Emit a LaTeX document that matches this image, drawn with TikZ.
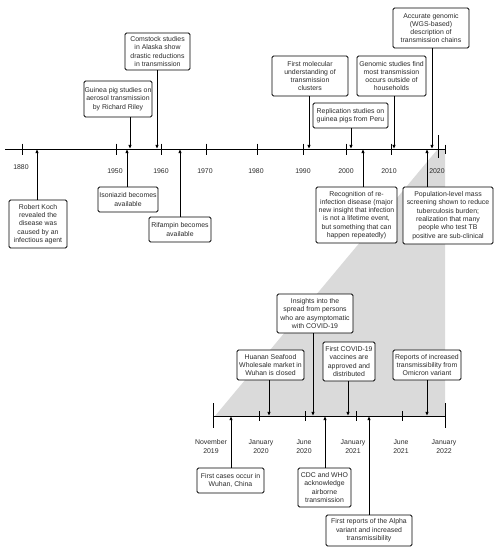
\documentclass[tikz,border=0pt]{standalone}
\usepackage{fontspec}
\setmainfont{Liberation Sans}
\usepackage{tikz}
\usetikzlibrary{arrows.meta}
\usepackage{xcolor}
\definecolor{inkc}{HTML}{2B2B2B}
\definecolor{shadec}{HTML}{DADADA}

\tikzset{
  event/.style={draw=black, line width=0.9pt, rounded corners=1.6pt, fill=white,
    align=center, inner sep=0pt, text=inkc, font=\fontsize{6.9}{8.3}\selectfont},
  evarrow/.style={line width=0.9pt, -{Latex[length=4.2pt,width=3.6pt]}},
  yearlab/.style={align=center, text=inkc, font=\fontsize{6.9}{8.6}\selectfont},
  tline/.style={line width=0.9pt}
}

\begin{document}
\begin{tikzpicture}[x=1pt,y=-1pt]
  \useasboundingbox (0,0) rectangle (499,550);
  \fill[shadec] (437,150) -- (445,150) -- (445,416) -- (215,416) -- cycle;

  \draw[tline] (5,149) -- (445,149);
  \draw[tline] (22,143.5) -- (22,154.5);
  \node[yearlab] (y1880) at (21,167) {1880};
  \draw[tline] (116,143.5) -- (116,154.5);
  \node[yearlab] (y1950) at (115,171) {1950};
  \draw[tline] (161,143.5) -- (161,154.5);
  \node[yearlab] (y1960) at (161,171) {1960};
  \draw[tline] (206,143.5) -- (206,154.5);
  \node[yearlab] (y1970) at (205,171) {1970};
  \draw[tline] (257,143.5) -- (257,154.5);
  \node[yearlab] (y1980) at (256,171) {1980};
  \draw[tline] (303,143.5) -- (303,154.5);
  \node[yearlab] (y1990) at (303,171) {1990};
  \draw[tline] (346,143.5) -- (346,154.5);
  \node[yearlab] (y2000) at (346,171) {2000};
  \draw[tline] (391,143.5) -- (391,154.5);
  \node[yearlab] (y2010) at (389,171) {2010};
  \draw[tline] (438,135) -- (438,158);
  \node[yearlab] (y2020) at (437,171) {2020};
  \draw[tline] (445,144.5) -- (445,153.5);

  \node[event, minimum width=58pt, minimum height=48pt] (koch) at (38,224)
    {Robert Koch\\revealed the\\disease was\\caused by an\\infectious agent};
  \node[event, minimum width=68pt, minimum height=36pt] (guinea) at (118,99)
    {Guinea pig studies on\\aerosol transmission\\by Richard Riley};
  \node[event, minimum width=65pt, minimum height=37pt] (comstock) at (157.5,51.5)
    {Comstock studies\\in Alaska show\\drastic reductions\\in transmission};
  \node[event, minimum width=60pt, minimum height=25pt] (isoniazid) at (128,199.5)
    {Isoniazid becomes\\available};
  \node[event, minimum width=62pt, minimum height=25pt] (rifampin) at (180,229.5)
    {Rifampin becomes\\available};
  \node[event, minimum width=76pt, minimum height=40pt] (molecular) at (310,76)
    {First molecular\\understanding of\\transmission\\clusters};
  \node[event, minimum width=75pt, minimum height=25pt] (replication) at (350.5,115.5)
    {Replication studies on\\guinea pigs from Peru};
  \node[event, minimum width=69pt, minimum height=40pt] (genomic) at (391.5,76)
    {Genomic studies find\\most transmission\\occurs outside of\\households};
  \node[event, minimum width=76pt, minimum height=40pt] (accurate) at (431,28)
    {Accurate genomic\\(WGS-based)\\description of\\transmission chains};
  \node[event, minimum width=81pt, minimum height=56pt] (reinfect) at (356.5,215)
    {Recognition of re-\\infection disease (major\\new insight that infection\\is not a lifetime event,\\but something that can\\happen repeatedly)};
  \node[event, minimum width=90pt, minimum height=57pt] (screening) at (448,215.5)
    {Population-level mass\\screening shown to reduce\\tuberculosis burden;\\realization that many\\people who test TB\\positive are sub-clinical};

  \coordinate (tkoch) at (37,149);
  \coordinate (tguinea) at (130,149);
  \coordinate (tcomstock) at (157,149);
  \coordinate (tisoniazid) at (127,149);
  \coordinate (trifampin) at (180,149);
  \coordinate (tmolecular) at (309,149);
  \coordinate (treplication) at (351,149);
  \coordinate (tgenomic) at (394,149);
  \coordinate (taccurate) at (432,149);
  \coordinate (treinfect) at (363,149);
  \coordinate (tscreening) at (427,149);
  \draw[evarrow] (tkoch |- koch.north) -- (tkoch);
  \draw[evarrow] (tguinea |- guinea.south) -- (tguinea);
  \draw[evarrow] (tcomstock |- comstock.south) -- (tcomstock);
  \draw[evarrow] (tisoniazid |- isoniazid.north) -- (tisoniazid);
  \draw[evarrow] (trifampin |- rifampin.north) -- (trifampin);
  \draw[evarrow] (tmolecular |- molecular.south) -- (tmolecular);
  \draw[evarrow] (treplication |- replication.south) -- (treplication);
  \draw[evarrow] (tgenomic |- genomic.south) -- (tgenomic);
  \draw[evarrow] (taccurate |- accurate.south) -- (taccurate);
  \draw[evarrow] (treinfect |- reinfect.north) -- (treinfect);
  \draw[evarrow] (tscreening |- screening.north) -- (tscreening);

  \draw[tline] (213,416) -- (445,416);
  \draw[tline] (213,403) -- (213,428);
  \node[yearlab] (nov19) at (211,446.5) {November\\2019};
  \draw[tline] (259,411) -- (259,421);
  \node[yearlab] (jan20) at (261,446.5) {January\\2020};
  \draw[tline] (305,411) -- (305,421);
  \node[yearlab] (jun20) at (304,446.5) {June\\2020};
  \draw[tline] (356,411) -- (356,421);
  \node[yearlab] (jan21) at (353,446.5) {January\\2021};
  \draw[tline] (402,411) -- (402,421);
  \node[yearlab] (jun21) at (401,446.5) {June\\2021};
  \draw[tline] (445,403) -- (445,428);
  \node[yearlab] (jan22) at (444,446.5) {January\\2022};

  \node[event, minimum width=76pt, minimum height=39pt] (insights) at (315,313.5)
    {Insights into the\\spread from persons\\who are asymptomatic\\with COVID-19};
  \node[event, minimum width=67pt, minimum height=30pt] (huanan) at (270.5,365)
    {Huanan Seafood\\Wholesale market in\\Wuhan is closed};
  \node[event, minimum width=52pt, minimum height=39pt] (vaccines) at (349,361.5)
    {First COVID-19\\vaccines are\\approved and\\distributed};
  \node[event, minimum width=68pt, minimum height=30pt] (omicron) at (427,365)
    {Reports of increased\\transmissibility from\\Omicron variant};
  \node[event, minimum width=67pt, minimum height=25pt] (wuhan) at (230.5,480.5)
    {First cases occur in\\Wuhan, China};
  \node[event, minimum width=53pt, minimum height=39pt] (airborne) at (324.5,487.5)
    {CDC and WHO\\acknowledge\\airborne\\transmission};
  \node[event, minimum width=86pt, minimum height=31pt] (alpha) at (369,530.5)
    {First reports of the Alpha\\variant and increased\\transmissibility};

  \coordinate (binsights) at (313,416);
  \coordinate (bhuanan) at (269,416);
  \coordinate (bvaccines) at (348,416);
  \coordinate (bomicron) at (427,416);
  \coordinate (bwuhan) at (231,416);
  \coordinate (bairborne) at (325,416);
  \coordinate (balpha) at (369,416);
  \draw[evarrow] (binsights |- insights.south) -- (binsights);
  \draw[evarrow] (bhuanan |- huanan.south) -- (bhuanan);
  \draw[evarrow] (bvaccines |- vaccines.south) -- (bvaccines);
  \draw[evarrow] (bomicron |- omicron.south) -- (bomicron);
  \draw[evarrow] (bwuhan |- wuhan.north) -- (bwuhan);
  \draw[evarrow] (bairborne |- airborne.north) -- (bairborne);
  \draw[evarrow] (balpha |- alpha.north) -- (balpha);
\end{tikzpicture}
\end{document}
